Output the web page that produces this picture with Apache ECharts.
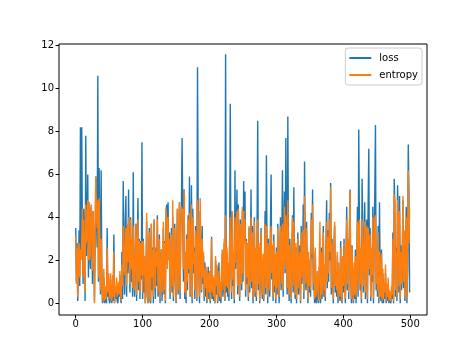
<!DOCTYPE html>
<html>
<head>
<meta charset="utf-8">
<script src="https://cdn.jsdelivr.net/npm/echarts@6/dist/echarts.min.js"></script>
<style>html,body{margin:0;padding:0;background:#fff;}#c{width:474px;height:355px;}</style>
</head>
<body>
<div id="c"></div>
<script>
const seriesNames = ['loss', 'entropy'];
const xTicks = [0, 100, 200, 300, 400, 500];
const yTicks = [0, 2, 4, 6, 8, 10, 12];

const loss = [
3.5,1.0,2.8,0.1,1.5,3.4,0.8,8.2,2.4,8.2,
3.0,0.9,4.4,2.6,0.1,7.8,2.2,3.6,6.0,1.2,
4.7,2.3,1.6,4.5,3.8,0.9,4.3,2.6,0.1,2.9,
5.9,4.1,2.6,10.6,1.0,6.3,3.2,0.4,6.2,1.6,
0.0,0.2,1.2,0.0,0.5,0.1,0.0,3.5,0.3,0.6,
0.1,0.0,1.1,0.3,0.0,0.7,0.1,3.2,0.0,0.5,
0.2,0.9,0.1,0.0,0.6,0.3,1.3,0.2,0.0,2.4,
0.2,5.7,1.8,0.4,3.8,5.0,0.3,3.6,1.4,5.3,
2.2,0.5,4.0,1.0,3.0,0.3,6.1,1.2,0.3,2.0,
3.7,0.1,2.8,4.9,0.6,3.0,0.2,2.9,1.1,7.5,
0.2,3.0,0.5,2.0,0.0,1.1,3.8,0.3,0.0,2.3,
3.5,0.1,0.0,3.7,0.6,2.6,0.0,3.9,1.7,0.2,
2.6,0.8,4.1,0.3,0.9,3.2,0.0,1.9,2.5,0.1,
1.4,3.5,0.4,2.9,0.0,4.3,4.6,1.8,4.7,2.3,
3.3,0.2,1.6,3.5,0.5,4.0,0.1,2.0,3.7,1.0,
0.0,2.6,4.4,0.4,1.6,4.7,0.2,3.4,4.6,7.7,
3.9,1.0,5.3,0.2,2.3,0.0,3.2,0.6,4.1,1.4,
5.9,0.3,2.6,5.5,0.0,4.4,1.4,2.6,0.2,3.6,
2.5,0.1,11.0,4.6,1.4,0.0,4.3,2.0,0.5,3.6,
0.9,2.2,0.1,1.9,0.3,1.4,0.0,0.8,1.7,0.2,
1.2,0.0,0.6,3.1,0.2,1.0,0.1,0.9,0.0,2.0,
0.4,1.7,0.0,0.5,1.9,0.1,0.6,0.0,1.3,2.3,
0.3,1.0,2.8,0.1,11.6,0.5,2.4,0.3,1.7,0.1,
2.9,9.3,1.5,0.2,4.3,0.8,2.0,0.0,6.2,1.6,
3.2,5.3,0.4,4.6,1.8,0.1,3.9,2.4,0.6,4.3,
1.0,5.7,2.8,5.2,0.3,3.0,0.9,2.6,0.1,3.5,
0.5,1.8,5.3,0.7,3.6,0.0,1.1,4.0,0.3,2.2,
0.1,3.3,8.5,0.6,2.6,0.0,1.5,3.5,0.8,0.2,
2.0,0.1,1.6,4.3,0.4,6.9,2.1,0.0,3.0,1.1,
0.3,3.4,6.0,1.1,2.6,0.1,3.2,0.5,2.1,0.0,
2.6,0.4,3.7,1.6,0.0,2.2,4.0,0.6,2.8,6.2,
0.3,3.1,5.2,1.4,7.7,3.0,0.4,8.7,2.5,0.1,
3.0,1.0,0.0,2.3,4.1,0.5,5.4,1.2,0.2,2.6,
0.0,1.8,3.3,0.4,1.1,2.7,0.0,3.6,0.9,1.8,
4.6,0.2,6.6,2.3,0.6,3.8,1.4,0.0,2.1,0.5,
1.7,0.3,4.2,2.1,5.3,0.6,1.2,0.0,2.4,0.1,
0.0,1.2,0.3,0.0,1.7,0.5,0.0,2.6,0.2,0.9,
3.6,0.3,1.5,0.1,2.8,4.8,0.7,3.4,1.0,4.2,
2.0,5.6,0.4,3.0,1.3,0.0,2.6,3.6,0.5,1.0,
0.3,2.2,0.0,1.6,0.6,0.1,2.9,0.3,0.0,1.9,
0.5,3.0,1.2,0.0,2.1,4.5,0.6,2.8,0.2,3.3,
5.3,1.1,0.0,2.7,0.4,0.0,1.6,0.2,2.5,0.0,
1.4,4.5,0.3,8.1,3.6,0.6,2.3,0.0,5.8,3.7,
0.5,2.6,4.7,0.2,1.8,3.9,0.0,4.5,7.2,1.3,
3.5,0.1,2.4,1.0,4.5,0.0,2.8,5.2,8.3,0.6,
2.1,0.3,3.6,0.0,4.7,1.1,0.1,2.5,0.0,1.4,
0.0,0.8,0.2,1.4,0.0,0.6,0.1,0.9,0.0,0.4,
0.1,0.0,0.5,0.2,3.3,0.0,5.8,4.4,0.3,2.6,
0.1,5.5,3.9,0.5,5.0,0.0,2.7,0.6,1.8,4.8,
0.7,3.2,0.1,2.3,4.5,0.0,1.6,7.4,5.2,0.5
];

const entropy = [
3.1,0.9,2.6,0.3,2.0,2.8,1.2,2.5,2.0,3.0,
4.4,1.2,3.9,2.5,0.5,4.6,2.8,3.2,4.8,2.0,
4.7,2.0,2.4,4.6,4.2,1.5,4.3,2.8,0.0,3.4,
5.9,4.0,3.5,4.8,1.2,4.9,3.0,0.6,3.0,1.2,
0.1,0.3,1.6,0.1,0.8,0.2,0.4,2.6,0.5,1.4,
0.4,0.2,1.4,0.5,0.1,1.3,0.3,2.4,0.0,0.8,
0.5,1.2,0.3,0.6,1.0,0.4,1.5,0.6,0.1,1.8,
0.8,3.6,1.7,1.3,3.2,3.5,0.8,3.7,1.9,4.0,
2.5,0.9,3.9,1.6,3.0,0.7,3.6,1.5,0.6,2.2,
3.7,0.4,2.7,3.9,1.0,2.9,0.5,2.8,1.3,2.9,
0.5,2.9,1.3,2.2,0.0,1.2,4.2,0.6,0.0,2.4,
3.3,0.3,0.1,3.7,1.2,2.5,0.3,3.9,2.5,0.7,
2.4,1.7,3.9,0.5,1.3,3.0,0.2,1.6,2.5,0.5,
1.8,3.8,0.6,2.8,0.1,4.4,3.8,1.6,4.0,2.0,
3.0,0.4,1.8,3.2,0.8,4.8,0.3,2.2,3.5,1.2,
0.1,2.4,4.4,0.6,1.9,4.7,0.5,3.2,4.5,4.0,
4.4,1.6,5.3,0.5,2.4,0.3,3.0,1.0,3.9,1.6,
4.2,0.4,2.8,4.6,0.2,4.0,1.8,2.4,0.6,3.4,
2.5,0.2,4.8,4.0,1.5,0.3,4.9,2.3,0.6,3.0,
1.2,2.4,0.3,1.6,0.7,1.7,0.1,1.2,1.4,0.5,
1.5,0.1,0.9,3.0,0.5,1.3,0.3,1.2,0.0,2.2,
0.8,1.8,0.1,0.9,1.5,0.3,1.0,0.2,1.7,2.5,
0.6,1.4,3.0,0.2,4.1,0.8,2.6,0.7,1.9,0.4,
2.7,4.0,1.6,0.5,4.3,1.1,2.4,0.2,4.0,1.9,
3.4,4.3,0.8,4.4,2.2,0.3,3.7,2.6,0.9,4.5,
1.4,4.3,2.8,3.9,0.6,2.9,1.2,2.8,0.3,3.6,
0.8,2.0,4.0,1.0,3.3,0.2,1.4,3.8,0.5,2.6,
0.3,3.0,3.9,0.9,2.8,0.1,1.9,3.3,1.0,0.4,
2.3,0.2,1.9,3.7,0.7,3.6,2.4,0.3,2.8,1.4,
0.6,3.1,3.6,1.4,2.7,0.3,2.9,0.8,2.3,0.2,
2.4,0.7,3.5,1.8,0.3,2.5,3.6,0.9,3.0,3.7,
0.6,2.9,4.5,1.6,4.1,2.8,0.7,4.8,2.2,0.4,
2.7,1.3,0.2,2.6,4.0,0.8,3.8,1.5,0.4,2.8,
0.2,2.0,3.0,0.7,1.5,2.4,0.1,3.3,1.2,2.0,
3.4,0.5,5.0,2.0,0.9,3.5,1.6,0.2,2.4,0.8,
2.0,0.6,3.9,2.3,4.6,0.9,1.6,0.2,2.6,0.3,
0.3,1.5,0.5,0.1,2.0,3.8,0.2,2.4,0.4,1.2,
3.3,0.6,1.8,0.3,2.6,3.8,1.0,3.1,1.4,3.9,
2.4,5.4,0.7,2.8,1.7,0.2,2.9,3.8,0.8,1.4,
0.6,2.4,0.2,1.9,0.9,0.3,2.6,0.6,0.1,2.2,
0.8,2.8,1.6,0.2,2.4,3.9,0.9,3.0,0.5,3.1,
5.2,1.4,0.2,2.6,0.7,0.1,1.9,0.4,2.2,0.3,
1.7,3.8,0.6,3.6,3.9,0.9,2.6,0.2,3.9,3.2,
0.8,2.3,3.8,0.5,2.1,3.6,0.2,3.5,3.0,1.6,
3.2,0.3,2.6,1.3,4.0,0.2,2.5,4.0,4.1,0.9,
2.4,0.6,3.3,0.2,2.4,1.4,0.3,2.3,0.1,1.6,
0.2,1.0,0.5,1.8,0.1,0.9,0.3,1.2,0.1,0.6,
0.3,0.1,0.8,0.4,3.0,0.1,5.1,4.8,0.6,2.4,
0.3,4.8,4.0,0.8,4.3,0.2,2.4,0.9,2.1,5.0,
1.0,3.4,0.3,2.5,4.0,0.2,1.9,6.2,2.8,4.4
];

const seriesValues = [loss, entropy];
const colors = ['#1f77b4', '#ff7f0e'];

const chart = echarts.init(document.getElementById('c'), null, {renderer: 'canvas'});
const fontFamily = 'DejaVu Sans';

chart.setOption({
  animation: false,
  backgroundColor: '#ffffff',
  grid: {
    left: 59, right: 47, top: 44, bottom: 40,
    show: true, borderColor: '#000000', borderWidth: 1,
    backgroundColor: 'transparent', containLabel: false
  },
  legend: {
    data: seriesNames,
    orient: 'vertical',
    right: 52, top: 48,
    itemWidth: 22, itemHeight: 2,
    itemGap: 5,
    icon: 'rect',
    padding: [4, 4, 4, 4],
    backgroundColor: 'rgba(255,255,255,0.8)',
    borderColor: '#cccccc', borderWidth: 1, borderRadius: 3,
    textStyle: {fontFamily: fontFamily, fontSize: 10, color: '#000', lineHeight: 12, padding: [0, 0, 0, 3]}
  },
  xAxis: {
    type: 'value', min: -25, max: 525,
    splitLine: {show: false},
    axisLine: {show: false, onZero: false},
    axisTick: {show: true, inside: false, length: 3.5, lineStyle: {color: '#000'}, customValues: xTicks},
    axisLabel: {color: '#000', fontFamily: fontFamily, fontSize: 10, margin: 4, customValues: xTicks}
  },
  yAxis: {
    type: 'value', min: -0.55, max: 12.08,
    splitLine: {show: false},
    axisLine: {show: false, onZero: false},
    axisTick: {show: true, inside: false, length: 3.5, lineStyle: {color: '#000'}, customValues: yTicks},
    axisLabel: {color: '#000', fontFamily: fontFamily, fontSize: 10, margin: 5, customValues: yTicks}
  },
  series: seriesNames.map((name, k) => ({
    name: name,
    type: 'line',
    showSymbol: false,
    symbol: 'none',
    color: colors[k],
    lineStyle: {width: 1.4, color: colors[k]},
    data: seriesValues[k].map((v, i) => [i, v])
  }))
});
</script>
</body>
</html>
